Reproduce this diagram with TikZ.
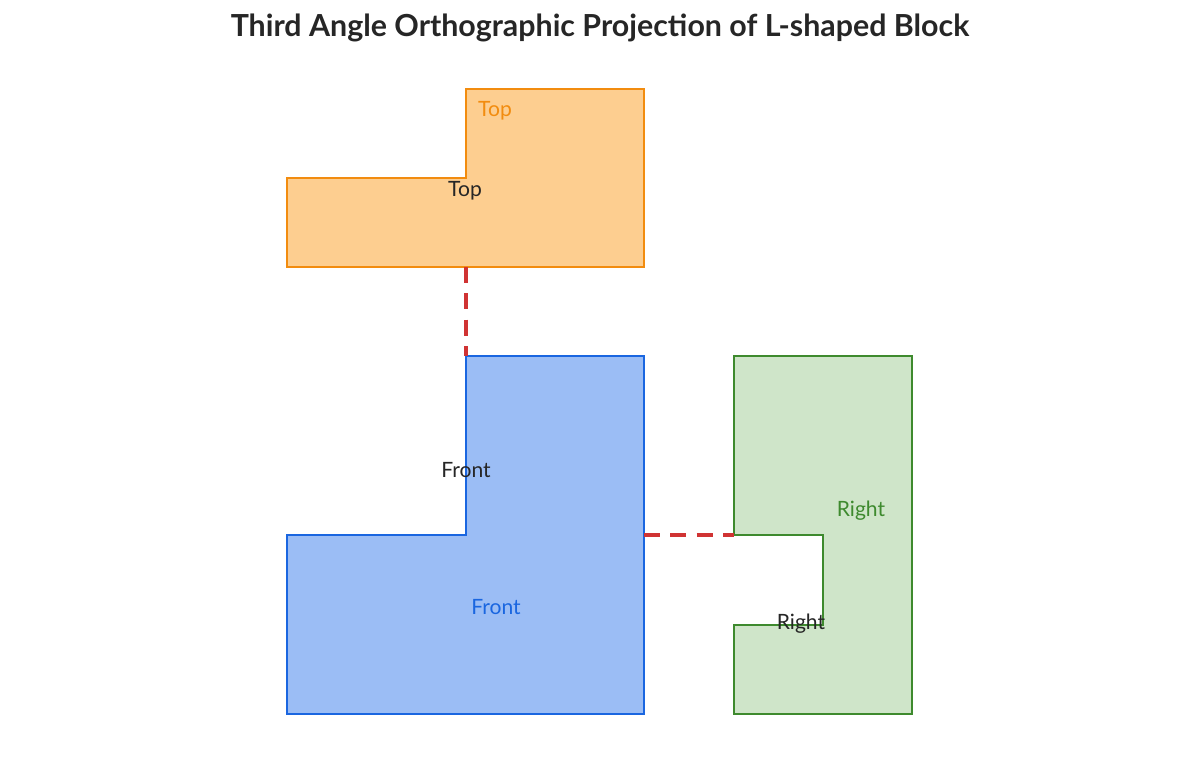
\documentclass[tikz,border=0pt]{standalone}
\usepackage{fontspec}
\setmainfont{Lato}
\definecolor{topline}{HTML}{F28C0F}
\definecolor{topfill}{HTML}{FDCE90}
\definecolor{frontline}{HTML}{1A66E0}
\definecolor{frontfill}{HTML}{9BBDF5}
\definecolor{rightline}{HTML}{3E8A2E}
\definecolor{rightfill}{HTML}{CFE5C9}
\definecolor{linkred}{HTML}{D03333}
\tikzset{
    view/.style = {
        line width=1.2pt,
        },
    top view/.style = {
        view, draw=topline, fill=topfill,
        },
    front view/.style = {
        view, draw=frontline, fill=frontfill,
        },
    right view/.style = {
        view, draw=rightline, fill=rightfill,
        },
    link/.style = {
        draw=linkred, line width=2.4pt, dash pattern=on 9pt off 6pt,
        },
    tag/.style = {
        font=\large,
        },
}
\begin{document}
\begin{tikzpicture}[x=0.02cm,y=-0.02cm]
    \useasboundingbox (0,0) rectangle (1200,763);
    \node[font=\LARGE\bfseries, text=black!85] (title) at (600,28) {Third Angle Orthographic Projection of L-shaped Block};

    % top view
    \draw[top view] (466,89) -- (644,89) -- (644,267) -- (287,267) -- (287,178) -- (466,178) -- cycle;
    \node[tag, text=topline] (toptag) at (495,111) {Top};
    \node[tag, text=black!85] (toplabel) at (465,191) {Top};

    % front view
    \draw[front view] (466,356) -- (644,356) -- (644,714) -- (287,714) -- (287,535) -- (466,535) -- cycle;
    \node[tag, text=frontline] (fronttag) at (496,607) {Front};
    \node[tag, text=black!85] (frontlabel) at (466,470) {Front};

    % right view
    \draw[right view] (734,356) -- (912,356) -- (912,714) -- (734,714) -- (734,625) -- (823,625) -- (823,535) -- (734,535) -- cycle;
    \node[tag, text=rightline] (righttag) at (861,511) {Right};
    \node[tag, text=black!85] (rightlabel) at (801,624) {Right};

    % projection links
    \coordinate (topbase) at (466,267);
    \coordinate (frontcorner) at (466,356);
    \coordinate (frontside) at (644,535);
    \coordinate (rightside) at (734,535);
    \draw[link] (topbase) -- (frontcorner);
    \draw[link] (frontside) -- (rightside);
\end{tikzpicture}
\end{document}
